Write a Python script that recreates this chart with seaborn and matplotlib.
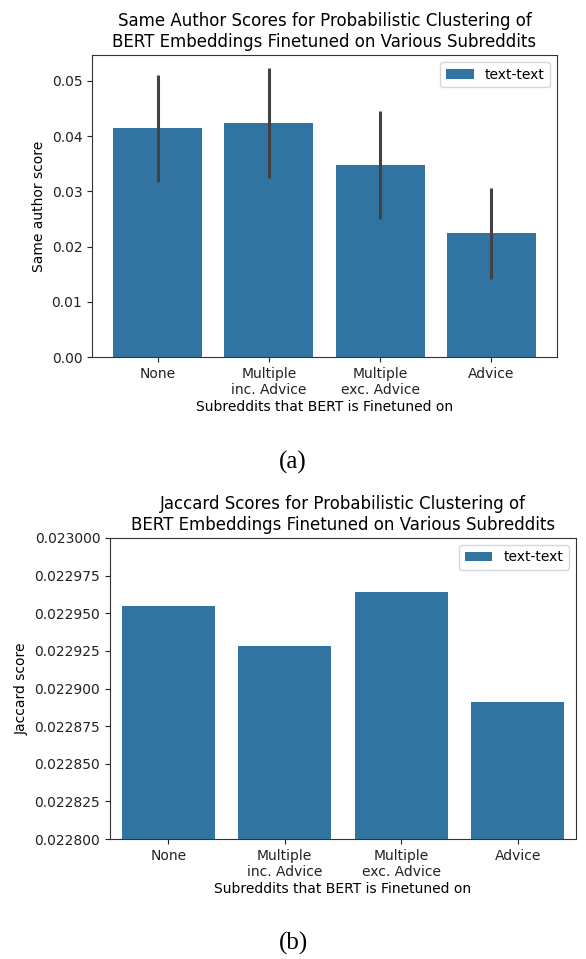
import matplotlib
matplotlib.use("Agg")
import matplotlib.pyplot as plt
from matplotlib.ticker import MultipleLocator, FormatStrFormatter
import pandas as pd
import seaborn as sns

# categorii pe axa x
subreddits = ["None", "Multiple\ninc. Advice", "Multiple\nexc. Advice", "Advice"]
serie = "text-text"

# (a) same author score: media + interval de eroare
same_author = [0.04156, 0.04234, 0.03478, 0.02246]
same_author_lo = [0.03165, 0.03243, 0.02507, 0.01408]
same_author_hi = [0.05103, 0.05236, 0.04457, 0.03069]

# (b) jaccard score
jaccard = [0.022955, 0.022928, 0.022964, 0.022891]

plt.rcParams['font.family'] = ['DejaVu Sans']
plt.rcParams['font.size'] = 10

fig = plt.figure(figsize=(5.86, 9.59), dpi=100)
ax1 = fig.add_axes([0.157, 0.6277, 0.7935, 0.3149])
ax2 = fig.add_axes([0.1877, 0.1251, 0.795, 0.3139])

df_a = pd.DataFrame({"sub": subreddits, "score": same_author, "tip": serie})
df_b = pd.DataFrame({"sub": subreddits, "score": jaccard, "tip": serie})

#grafic (a)
sns.barplot(data=df_a, x="sub", y="score", hue="tip", errorbar=None, ax=ax1, linewidth=0)
ax1.vlines(range(len(subreddits)), same_author_lo, same_author_hi, color=".26", linewidth=2.2, zorder=3)
ax1.set_ylim(0, 0.0547)
ax1.yaxis.set_major_locator(MultipleLocator(0.01))
ax1.yaxis.set_major_formatter(FormatStrFormatter('%.2f'))
ax1.set_title("Same Author Scores for Probabilistic Clustering of\nBERT Embeddings Finetuned on Various Subreddits", fontsize=12)
ax1.set_ylabel("Same author score")
ax1.set_xlabel("Subreddits that BERT is Finetuned on", labelpad=2)

#grafic (b)
sns.barplot(data=df_b, x="sub", y="score", hue="tip", errorbar=None, ax=ax2, linewidth=0)
ax2.set_ylim(0.0228, 0.0230)
ax2.yaxis.set_major_locator(MultipleLocator(0.000025))
ax2.yaxis.set_major_formatter(FormatStrFormatter('%.6f'))
ax2.set_title("Jaccard Scores for Probabilistic Clustering of\nBERT Embeddings Finetuned on Various Subreddits", fontsize=12)
ax2.set_ylabel("Jaccard score")
ax2.set_xlabel("Subreddits that BERT is Finetuned on", labelpad=2)

for ax in (ax1, ax2):
    h, l = ax.get_legend_handles_labels()
    ax.legend(h, l, loc="upper right", fontsize=10)
    for s in ax.spines.values():
        s.set_color("#333333")
    ax.tick_params(colors="#222222", labelsize=10)

fig.text(0.5, 1 - 462 / 959, "(a)", ha="center", va="center", fontsize=18, family="Liberation Serif")
fig.text(0.5, 1 - 943 / 959, "(b)", ha="center", va="center", fontsize=18, family="Liberation Serif")

plt.savefig("out.png", dpi=100)
